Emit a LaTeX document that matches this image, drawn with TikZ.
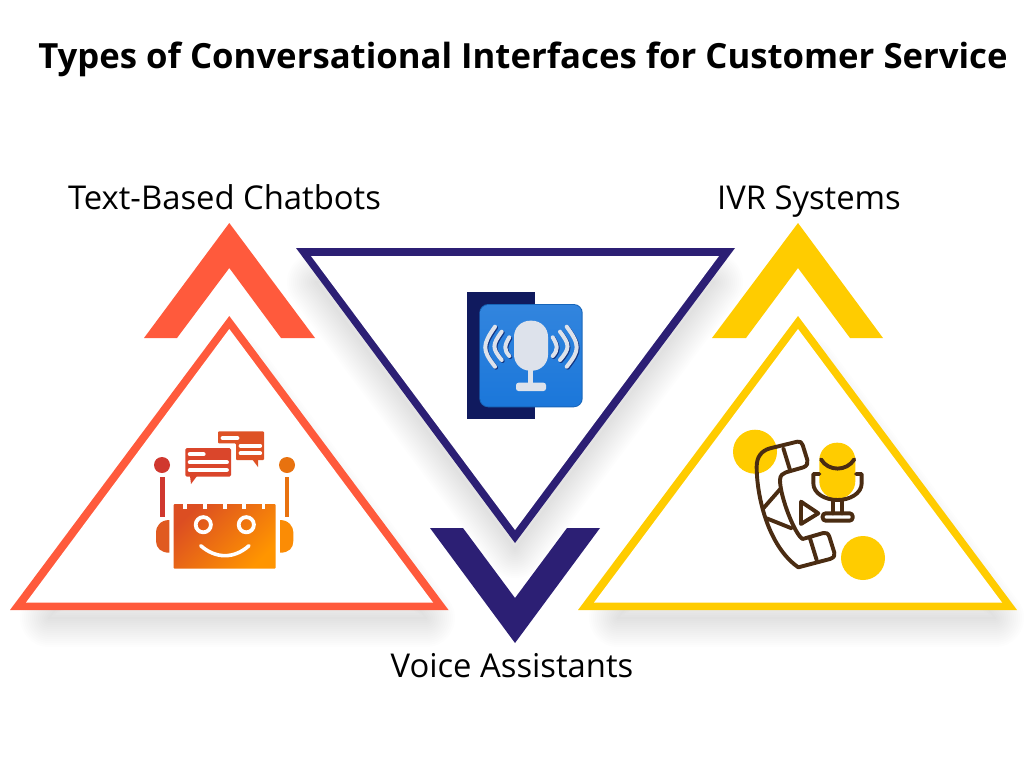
\documentclass[tikz,border=0pt]{standalone}
\usepackage{fontspec}
\setmainfont{Open Sans}
\usepackage{tikz}
\usetikzlibrary{calc}

\definecolor{redline}{HTML}{FF5A3C}
\definecolor{navyline}{HTML}{2C1F74}
\definecolor{yellowline}{HTML}{FFCC00}
\definecolor{navyblock}{HTML}{101A5E}
\definecolor{micblue}{HTML}{1B77DA}
\definecolor{micgray}{HTML}{DDE2EB}
\definecolor{phonebrown}{HTML}{4A2C12}
\definecolor{bubbleback}{HTML}{DE5225}
\definecolor{bubblefront}{HTML}{DA462B}
\definecolor{ballleft}{HTML}{D0382F}
\definecolor{ballright}{HTML}{E8720F}
\definecolor{earleft}{HTML}{E05A20}
\definecolor{earright}{HTML}{FB8C05}
\definecolor{bodystart}{HTML}{DC4E22}
\definecolor{bodyend}{HTML}{FF9500}

\tikzset{
  softlayer/.style={draw=black,draw opacity=0.0065,line join=round},
  title/.style={font=\fontsize{34.7}{34.7}\selectfont\bfseries,anchor=base,inner sep=0pt},
  caption/.style={font=\fontsize{32.8}{32.8}\selectfont,anchor=base,inner sep=0pt},
  bar/.style={draw=white,line width=4.2pt,line cap=round},
  wave/.style={line width=4pt,line cap=round},
  brown/.style={draw=phonebrown,line width=3.9pt,line cap=round,line join=round}
}

\newcommand{\softshadow}[1]{%
  \foreach \w in {2,6,...,58}{\draw[softlayer,line width=\w pt] #1 -- cycle;}}

\begin{document}
\begin{tikzpicture}[x=1pt,y=-1pt]
    \useasboundingbox (0,0) rectangle (1024,768);
    \fill[white] (0,0) rectangle (1024,768);

    % shadows
    \softshadow{(237.5,365) -- (49,618) -- (426,618)}
    \softshadow{(806.5,365) -- (618,618) -- (995,618)}
    \softshadow{(316,282) -- (714,282) -- (515,549)}

    % red side
    \fill[redline] (229.3,223) -- (315,338) -- (281,338) -- (229.3,268) -- (177,338) -- (144,338) -- cycle;
    \fill[redline] (229.3,316) -- (448.5,610) -- (10,610) -- cycle;
    \fill[white] (229.3,329) -- (433,602.5) -- (26,602.5) -- cycle;

    % navy middle
    \fill[navyline] (430,528) -- (463,528) -- (515,598) -- (567,528) -- (600,528) -- (515,643) -- cycle;
    \fill[navyline] (296,248) -- (735,248) -- (515,543) -- cycle;
    \fill[white] (311,256) -- (719,256) -- (515,530) -- cycle;

    % yellow side
    \fill[yellowline] (798,223) -- (883,338) -- (850,338) -- (798,268) -- (746,338) -- (712,338) -- cycle;
    \fill[yellowline] (798,316) -- (1017,610) -- (578,610) -- cycle;
    \fill[white] (798,329) -- (1002,602.5) -- (594,602.5) -- cycle;

    % texts
    \node[title] (heading) at (523,68) {Types of Conversational Interfaces for Customer Service};
    \node[caption] (chatbots) at (224.5,209) {Text-Based Chatbots};
    \node[caption] (ivr) at (809,209) {IVR Systems};
    \node[caption] (voice) at (512,677) {Voice Assistants};

    % robot
    \fill[rounded corners=1pt,fill=bubbleback] (218,431.3) -- (264,431.3) -- (264,460) -- (236,460) -- (236,443.3) -- (218,443.3) -- cycle;
    \fill[fill=bubbleback] (252,459) -- (258,459) -- (258,467) -- cycle;
    \draw[bar] (222.7,438) -- (237.3,438);
    \draw[bar] (240.7,445.7) -- (260,445.7);
    \draw[bar] (240.7,453.3) -- (260,453.3);
    \fill[rounded corners=1.5pt,fill=bubblefront] (185.3,448) rectangle (231,476.7);
    \fill[fill=bubblefront] (190,476) -- (197,476) -- (191,484) -- cycle;
    \draw[bar] (189.8,454.3) -- (203.5,454.3);
    \draw[bar] (189.8,462.3) -- (226.8,462.3);
    \draw[bar] (189.8,470) -- (226.8,470);
    \fill[fill=ballleft] (162,465) circle (8);
    \fill[fill=ballleft] (160,477.3) rectangle (164.7,517.3);
    \fill[fill=ballright] (287,465) circle (8);
    \fill[fill=ballright] (285,477.3) rectangle (289,517.3);
    \fill[fill=earleft] (169.3,520) .. controls (160,520) and (156,527) .. (156,532) -- (156,541) .. controls (156,548) and (161,552.7) .. (169.3,552.7) -- cycle;
    \fill[fill=earright] (280,520) .. controls (289,520) and (293.3,527) .. (293.3,532) -- (293.3,541) .. controls (293.3,548) and (289,552.7) .. (280,552.7) -- cycle;
    \shade[rounded corners=1pt,left color=bodystart,right color=bodyend,shading angle=45] (173.7,504) rectangle (275.7,568.7);
    \foreach \x in {185,205,224.7,244,263.3}
        \fill[white] (\x-1.8,503.5) rectangle (\x+1.8,509);
    \draw[white,line width=3.8pt] (203.3,524.7) circle (7.6);
    \draw[white,line width=3.8pt] (246.3,524.7) circle (7.6);
    \draw[bar,line width=3.6pt] (200.7,545.7) .. controls (216,559) and (234,559) .. (249,545.7);

    % microphone
    \fill[navyblock] (467.3,292.3) rectangle (535,418.7);
    \fill[micblue!85!black,rounded corners=9pt] (479.3,304) rectangle (582.7,407.3);
    \shade[rounded corners=8pt,top color=micblue!90!white,bottom color=micblue] (480.3,305) rectangle (581.7,406.3);
    \foreach \dy/\c in {1/navyblock!70!micblue,0/micgray}{
        \begin{scope}[yshift=-\dy pt,xshift=\dy pt]
            \draw[wave,draw=\c] (509.3,337.3) .. controls (504,346) and (504,350) .. (509.3,356);
            \draw[wave,draw=\c] (501.7,331.7) .. controls (492,345) and (492,348) .. (501.7,360);
            \draw[wave,draw=\c] (495,326.7) .. controls (482,345) and (482,350) .. (495,366.7);
            \draw[wave,draw=\c] (552.7,337.3) .. controls (558,346) and (558,350) .. (552.7,356);
            \draw[wave,draw=\c] (560,331.7) .. controls (570,345) and (570,348) .. (560,360);
            \draw[wave,draw=\c] (566.7,326.7) .. controls (580,345) and (580,350) .. (566.7,366.7);
        \end{scope}
    }
    \fill[micgray,rounded corners=16pt] (514,320.7) rectangle (548,370.7);
    \fill[micgray] (528.3,370) rectangle (533.3,385);
    \fill[micgray,rounded corners=2.5pt] (516,382.7) rectangle (546,391);

    % phone and mic
    \fill[yellowline] (755,451.7) circle (22);
    \fill[yellowline] (863,558) circle (22);
    \fill[yellowline,rounded corners=17.5pt] (819.3,442.7) rectangle (855.3,498.7);
    \begin{scope}[shift={(720,420)},x=0.3333pt,y=-0.3333pt]
        \draw[brown] (232,65) -- (150,85) .. controls (125,92) and (110,110) .. (110,140)
            .. controls (110,230) and (145,380) .. (235,442) -- (330,417)
            .. controls (342,413) and (346,405) .. (343,398) -- (328,350)
            .. controls (325,340) and (318,337) .. (310,339) -- (248,357)
            .. controls (225,345) and (180,230) .. (180,180)
            .. controls (180,165) and (190,160) .. (198,157) -- (250,142)
            .. controls (262,138) and (264,128) .. (262,120) -- (248,75)
            .. controls (245,67) and (240,63) .. (232,65) -- cycle;
        \draw[brown] (190,85) -- (210,150);
        \draw[brown] (270,355) -- (290,420);
        \draw[brown] (180,208) -- (130,265);
        \draw[brown] (140,295) -- (215,325);
        \draw[brown] (243,245) -- (295,280) -- (243,312) -- cycle;
        \draw[brown] (298,162) -- (280,162) -- (280,190) .. controls (280,220) and (315,240) .. (353,240)
            .. controls (390,240) and (425,220) .. (425,190) -- (425,162) -- (408,162);
        \draw[brown] (303,118) .. controls (325,155) and (380,155) .. (403,118);
        \draw[brown] (338,240) -- (338,280);
        \draw[brown] (367,240) -- (367,280);
        \draw[brown,rounded corners=3pt] (308,280) rectangle (398,302);
    \end{scope}
\end{tikzpicture}
\end{document}
